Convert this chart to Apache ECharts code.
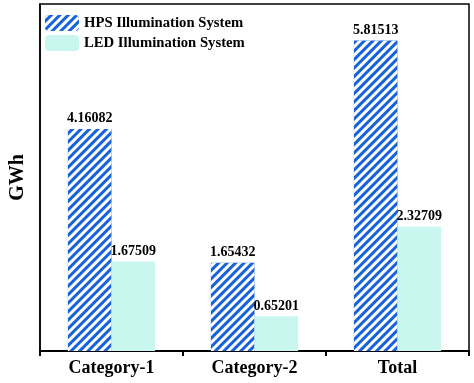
<!DOCTYPE html>
<html><head><meta charset="utf-8">
<script src="https://cdn.jsdelivr.net/npm/echarts@6/dist/echarts.min.js"></script>
<style>html,body{margin:0;padding:0;background:#fff}#c{width:474px;height:383px}</style>
</head><body><div id="c"></div>
<script>
const categories = ['Category-1', 'Category-2', 'Total'];
const hpsValues = [4.16082, 1.65432, 5.81513];
const ledValues = [1.67509, 0.65201, 2.32709];
const seriesNames = ['HPS Illumination System', 'LED Illumination System'];
const yMax = 6.5;

const font = '"Liberation Serif", "Times New Roman", serif';
const chart = echarts.init(document.getElementById('c'));
const labelStyle = {
  show: true, position: 'top', distance: 3,
  fontFamily: font, fontWeight: 'bold', fontSize: 14, color: '#000',
  formatter: p => p.value.toFixed(5)
};
chart.setOption({
  animation: false,
  backgroundColor: '#fff',
  grid: { left: 37, right: 5, top: 4, bottom: 32, show: true, borderColor: '#000', borderWidth: 1.5 },
  legend: {
    orient: 'vertical', left: 40, top: 10,
    itemWidth: 34, itemHeight: 16, itemGap: 4,
    textStyle: { fontFamily: font, fontWeight: 'bold', fontSize: 14.7, color: '#000' },
    data: seriesNames
  },
  xAxis: {
    type: 'category', data: categories,
    axisLine: { lineStyle: { color: '#000', width: 2 } },
    axisTick: { show: true, length: 5, lineStyle: { color: '#000', width: 2 } },
    axisLabel: { fontFamily: font, fontWeight: 'bold', fontSize: 18, color: '#000', margin: 8 }
  },
  yAxis: {
    type: 'value', min: 0, max: yMax,
    name: 'GWh', nameLocation: 'middle', nameGap: 12, nameRotate: 90,
    nameTextStyle: { fontFamily: font, fontWeight: 'bold', fontSize: 20, color: '#000' },
    axisLine: { show: true, lineStyle: { color: '#000', width: 1.5 } },
    axisTick: { show: false }, axisLabel: { show: false }, splitLine: { show: false }
  },
  series: [
    {
      name: seriesNames[0], type: 'bar', data: hpsValues,
      barGap: '0%', barCategoryGap: '39%',
      itemStyle: {
        color: '#1762d9',
        decal: { symbol: 'rect', color: '#ffffff', dashArrayX: [1, 0], dashArrayY: [3, 3], rotation: -Math.PI / 4 }
      },
      label: labelStyle
    },
    {
      name: seriesNames[1], type: 'bar', data: ledValues,
      itemStyle: { color: '#c9f7ef' },
      label: labelStyle
    }
  ]
});
</script></body></html>
